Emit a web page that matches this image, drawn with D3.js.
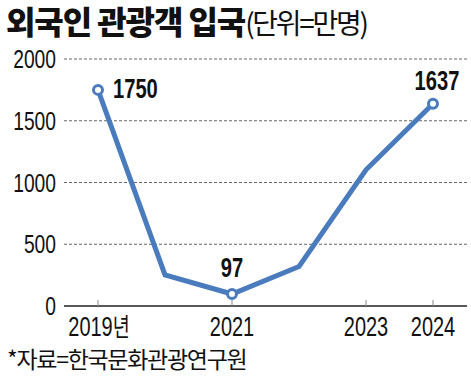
<!DOCTYPE html>
<html>
<head>
<meta charset="utf-8">
<script src="https://cdn.jsdelivr.net/npm/d3@7"></script>
<style>
  html, body { margin: 0; padding: 0; background: #fff; }
  svg { display: block; }
</style>
</head>
<body>
<div id="chart"></div>
<script>
// 외국인 관광객 입국 (만명)
const years = [2019, 2020, 2021, 2022, 2023, 2024];
const visitors = [1750, 252, 97, 320, 1103, 1637];
const tickYears = [2019, 2021, 2023, 2024];
const tickYearLabels = ['2019년', '2021', '2023', '2024'];
const yTicks = [0, 500, 1000, 1500, 2000];
const labeled = [2019, 2021, 2024]; // 값 표시하는 점

const W = 471, H = 378;
const blue = '#4a7cbd';
const numFont = "'Liberation Sans', Arial, sans-serif";
const korFont = "'Noto Sans CJK KR', 'Noto Sans', sans-serif";

const svg = d3.select('#chart').append('svg')
    .attr('width', W).attr('height', H);

const x = d3.scaleLinear().domain([2019, 2024]).range([98, 433]);
const y = d3.scaleLinear().domain([0, 2000]).range([306, 59]);
const axisX0 = 64, axisX1 = 467;

// narrow text helper (폰트 좁게)
function txt(str, px, py, opts) {
    const o = Object.assign({ size: 24, weight: 400, anchor: 'start', sx: 0.78, font: numFont }, opts);
    return svg.append('text')
        .attr('transform', `translate(${px},${py}) scale(${o.sx},1)`)
        .attr('text-anchor', o.anchor)
        .attr('font-family', o.font)
        .attr('font-size', o.size)
        .attr('font-weight', o.weight)
        .attr('fill', '#111')
        .text(str);
}

// Title
const title = svg.append('text')
    .attr('x', 6).attr('y', 34)
    .attr('font-family', korFont)
    .attr('fill', '#111');
title.append('tspan').attr('font-size', 32).attr('font-weight', 900)
    .attr('letter-spacing', -1.1).text('외국인 관광객 입국');
title.append('tspan').attr('font-size', 28).attr('font-weight', 400)
    .attr('letter-spacing', -2.3).text('(단위=만명)');

// Grid
yTicks.filter(d => d > 0).forEach(d => {
    svg.append('line')
        .attr('x1', axisX0).attr('x2', axisX1)
        .attr('y1', y(d)).attr('y2', y(d))
        .attr('stroke', '#666').attr('stroke-width', 1)
        .attr('stroke-dasharray', '3,2');
});

// y labels
yTicks.forEach(d => {
    txt(String(d), 56, y(d) + 9, { anchor: 'end', size: 26, sx: 0.74 });
});

// x axis
svg.append('line')
    .attr('x1', axisX0).attr('x2', axisX1)
    .attr('y1', y(0)).attr('y2', y(0))
    .attr('stroke', '#222').attr('stroke-width', 1.5);
tickYears.forEach((d, i) => {
    svg.append('line')
        .attr('x1', x(d)).attr('x2', x(d))
        .attr('y1', y(0) - 6).attr('y2', y(0))
        .attr('stroke', '#888').attr('stroke-width', 1);
    if (i === 0) {
        const t = svg.append('text')
            .attr('transform', `translate(${x(d) + 1},336) scale(0.74,1)`)
            .attr('text-anchor', 'middle')
            .attr('font-size', 27).attr('fill', '#111');
        t.append('tspan').attr('font-family', numFont).text('2019');
        t.append('tspan').attr('font-family', korFont).attr('font-size', 25).text('년');
    } else {
        txt(tickYearLabels[i], x(d), 336, { anchor: 'middle', size: 27, sx: 0.74 });
    }
});

// line
const pts = years.map((yr, i) => ({ yr, v: visitors[i] }));
svg.append('path')
    .datum(pts)
    .attr('fill', 'none')
    .attr('stroke', blue)
    .attr('stroke-width', 5)
    .attr('stroke-linejoin', 'miter')
    .attr('d', d3.line().x(d => x(d.yr)).y(d => y(d.v)));

// markers
pts.filter(d => labeled.includes(d.yr)).forEach(d => {
    svg.append('circle')
        .attr('cx', x(d.yr)).attr('cy', y(d.v))
        .attr('r', 4.5)
        .attr('fill', '#fff')
        .attr('stroke', blue)
        .attr('stroke-width', 3);
});

// value labels
const lab = d => pts.find(p => p.yr === d);
txt(String(lab(2019).v), x(2019) + 15, y(lab(2019).v) + 8, { size: 28, weight: 700, sx: 0.72 });
txt(String(lab(2021).v), x(2021), y(lab(2021).v) - 17, { size: 28, weight: 700, anchor: 'middle', sx: 0.72 });
txt(String(lab(2024).v), x(2024) + 4, y(lab(2024).v) - 14, { size: 28, weight: 700, anchor: 'middle', sx: 0.72 });

// source
svg.append('text')
    .attr('x', 7).attr('y', 368)
    .attr('font-family', korFont)
    .attr('font-size', 23)
    .attr('letter-spacing', -1.3)
    .attr('fill', '#111')
    .text('*자료=한국문화관광연구원');
</script>
</body>
</html>
